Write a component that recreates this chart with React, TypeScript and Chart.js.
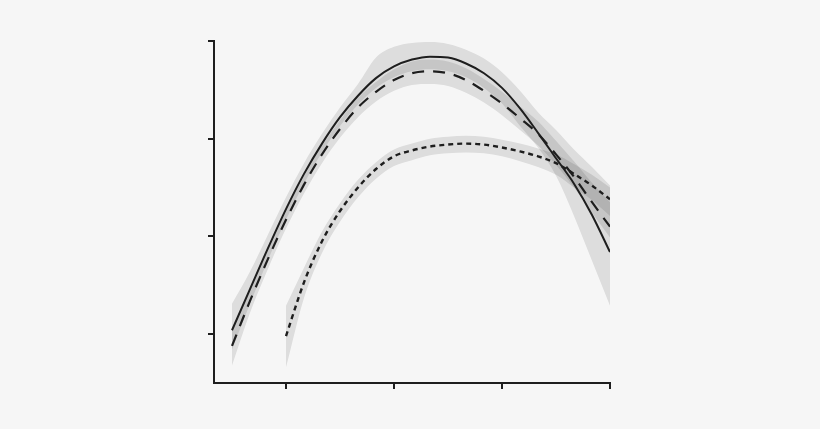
import React, { useEffect, useRef } from "react";
import { Chart, registerables } from "chart.js";

Chart.register(...registerables);

// x positions (tick marks at 3, 6, 9, 12)
const xFull = [1.5, 2, 2.5, 3, 3.5, 4, 4.5, 5, 5.5, 6, 6.5, 7, 7.5, 8, 8.5, 9, 9.5, 10, 10.5, 11, 11.5, 12];
const xDotted = [3, 3.5, 4, 4.5, 5, 5.5, 6, 6.5, 7, 7.5, 8, 8.5, 9, 9.5, 10, 10.5, 11, 11.5, 12];
const xTicks = [3, 6, 9, 12];
const yTicks = [1, 2, 3, 4];

// solid series
const solidMean = [1.04, 1.46, 1.88, 2.28, 2.64, 2.95, 3.22, 3.44, 3.62, 3.74, 3.81, 3.84, 3.83, 3.77, 3.67, 3.52, 3.31, 3.06, 2.80, 2.54, 2.22, 1.84];
const solidUpper = [1.31, 1.64, 2.02, 2.40, 2.75, 3.05, 3.32, 3.56, 3.83, 3.94, 3.98, 3.99, 3.97, 3.91, 3.82, 3.68, 3.49, 3.27, 3.09, 2.89, 2.71, 2.52];
const solidLower = [0.84, 1.31, 1.76, 2.17, 2.54, 2.86, 3.13, 3.35, 3.52, 3.63, 3.69, 3.71, 3.69, 3.63, 3.52, 3.36, 3.13, 2.91, 2.62, 2.21, 1.75, 1.29];

// dashed series
const dashedMean = [0.88, 1.34, 1.77, 2.17, 2.53, 2.84, 3.10, 3.32, 3.48, 3.60, 3.67, 3.69, 3.67, 3.60, 3.49, 3.36, 3.21, 3.05, 2.84, 2.61, 2.35, 2.10];
const dashedUpper = [1.06, 1.46, 1.87, 2.26, 2.62, 2.93, 3.19, 3.42, 3.58, 3.71, 3.79, 3.81, 3.79, 3.72, 3.61, 3.48, 3.33, 3.18, 2.98, 2.77, 2.55, 2.35];
const dashedLower = [0.68, 1.22, 1.67, 2.08, 2.44, 2.75, 3.01, 3.22, 3.38, 3.49, 3.55, 3.56, 3.54, 3.47, 3.37, 3.24, 3.09, 2.93, 2.73, 2.50, 2.24, 1.99];

// dotted series
const dottedMean = [0.98, 1.53, 1.95, 2.26, 2.50, 2.69, 2.82, 2.88, 2.92, 2.94, 2.95, 2.94, 2.91, 2.87, 2.82, 2.75, 2.64, 2.52, 2.38];
const dottedUpper = [1.29, 1.68, 2.05, 2.34, 2.58, 2.76, 2.89, 2.95, 3.00, 3.02, 3.03, 3.02, 2.99, 2.95, 2.90, 2.84, 2.74, 2.63, 2.50];
const dottedLower = [0.66, 1.37, 1.83, 2.15, 2.40, 2.59, 2.72, 2.78, 2.83, 2.85, 2.86, 2.85, 2.82, 2.77, 2.71, 2.63, 2.50, 2.37, 2.21];

const pts = (xs: number[], ys: number[]) => xs.map((x, i) => ({ x, y: ys[i] }));

const BAND = "rgba(0,0,0,0.1)";
const INK = "#1e1e1e";

export default function App() {
  const ref = useRef<HTMLCanvasElement>(null);

  useEffect(() => {
    if (!ref.current) return;
    const line = (data: any, dash: number[], width: number) => ({
      data,
      borderColor: INK,
      borderWidth: width,
      borderDash: dash,
      pointRadius: 0,
      fill: false,
      cubicInterpolationMode: "monotone" as const,
    });
    const edge = (data: any, fill: any) => ({
      data,
      borderColor: "transparent",
      borderWidth: 0,
      pointRadius: 0,
      backgroundColor: BAND,
      fill,
      cubicInterpolationMode: "monotone" as const,
    });
    const chart = new Chart(ref.current, {
      type: "line",
      data: {
        datasets: [
          line(pts(xFull, solidMean), [], 2),
          line(pts(xFull, dashedMean), [12, 9], 2.2),
          line(pts(xDotted, dottedMean), [5, 4], 2.4),
          edge(pts(xFull, solidLower), false),
          edge(pts(xFull, solidUpper), "-1"),
          edge(pts(xFull, dashedLower), false),
          edge(pts(xFull, dashedUpper), "-1"),
          edge(pts(xDotted, dottedLower), false),
          edge(pts(xDotted, dottedUpper), "-1"),
        ] as any,
      },
      options: {
        animation: false,
        responsive: false,
        layout: { padding: { left: 208, right: 210, top: 41, bottom: 40 } },
        plugins: {
          legend: { display: false },
          tooltip: { enabled: false },
          filler: { drawTime: "beforeDatasetsDraw" },
        },
        scales: {
          x: {
            type: "linear",
            min: 1,
            max: 12,
            afterBuildTicks: (s: any) => {
              s.ticks = xTicks.map((v) => ({ value: v }));
            },
            ticks: { display: false },
            grid: { drawOnChartArea: false, drawTicks: true, tickLength: 6, color: INK, lineWidth: 2 },
            border: { display: true, color: INK, width: 2 },
          },
          y: {
            type: "linear",
            min: 0.5,
            max: 4,
            afterBuildTicks: (s: any) => {
              s.ticks = yTicks.map((v) => ({ value: v }));
            },
            ticks: { display: false },
            grid: { drawOnChartArea: false, drawTicks: true, tickLength: 6, color: INK, lineWidth: 2 },
            border: { display: true, color: INK, width: 2 },
          },
        },
      } as any,
    });
    return () => chart.destroy();
  }, []);

  return (
    <div style={{ position: "fixed", left: 0, top: 0, width: 820, height: 429, background: "#f6f6f6" }}>
      <canvas ref={ref} width={820} height={429} style={{ display: "block" }} />
    </div>
  );
}
